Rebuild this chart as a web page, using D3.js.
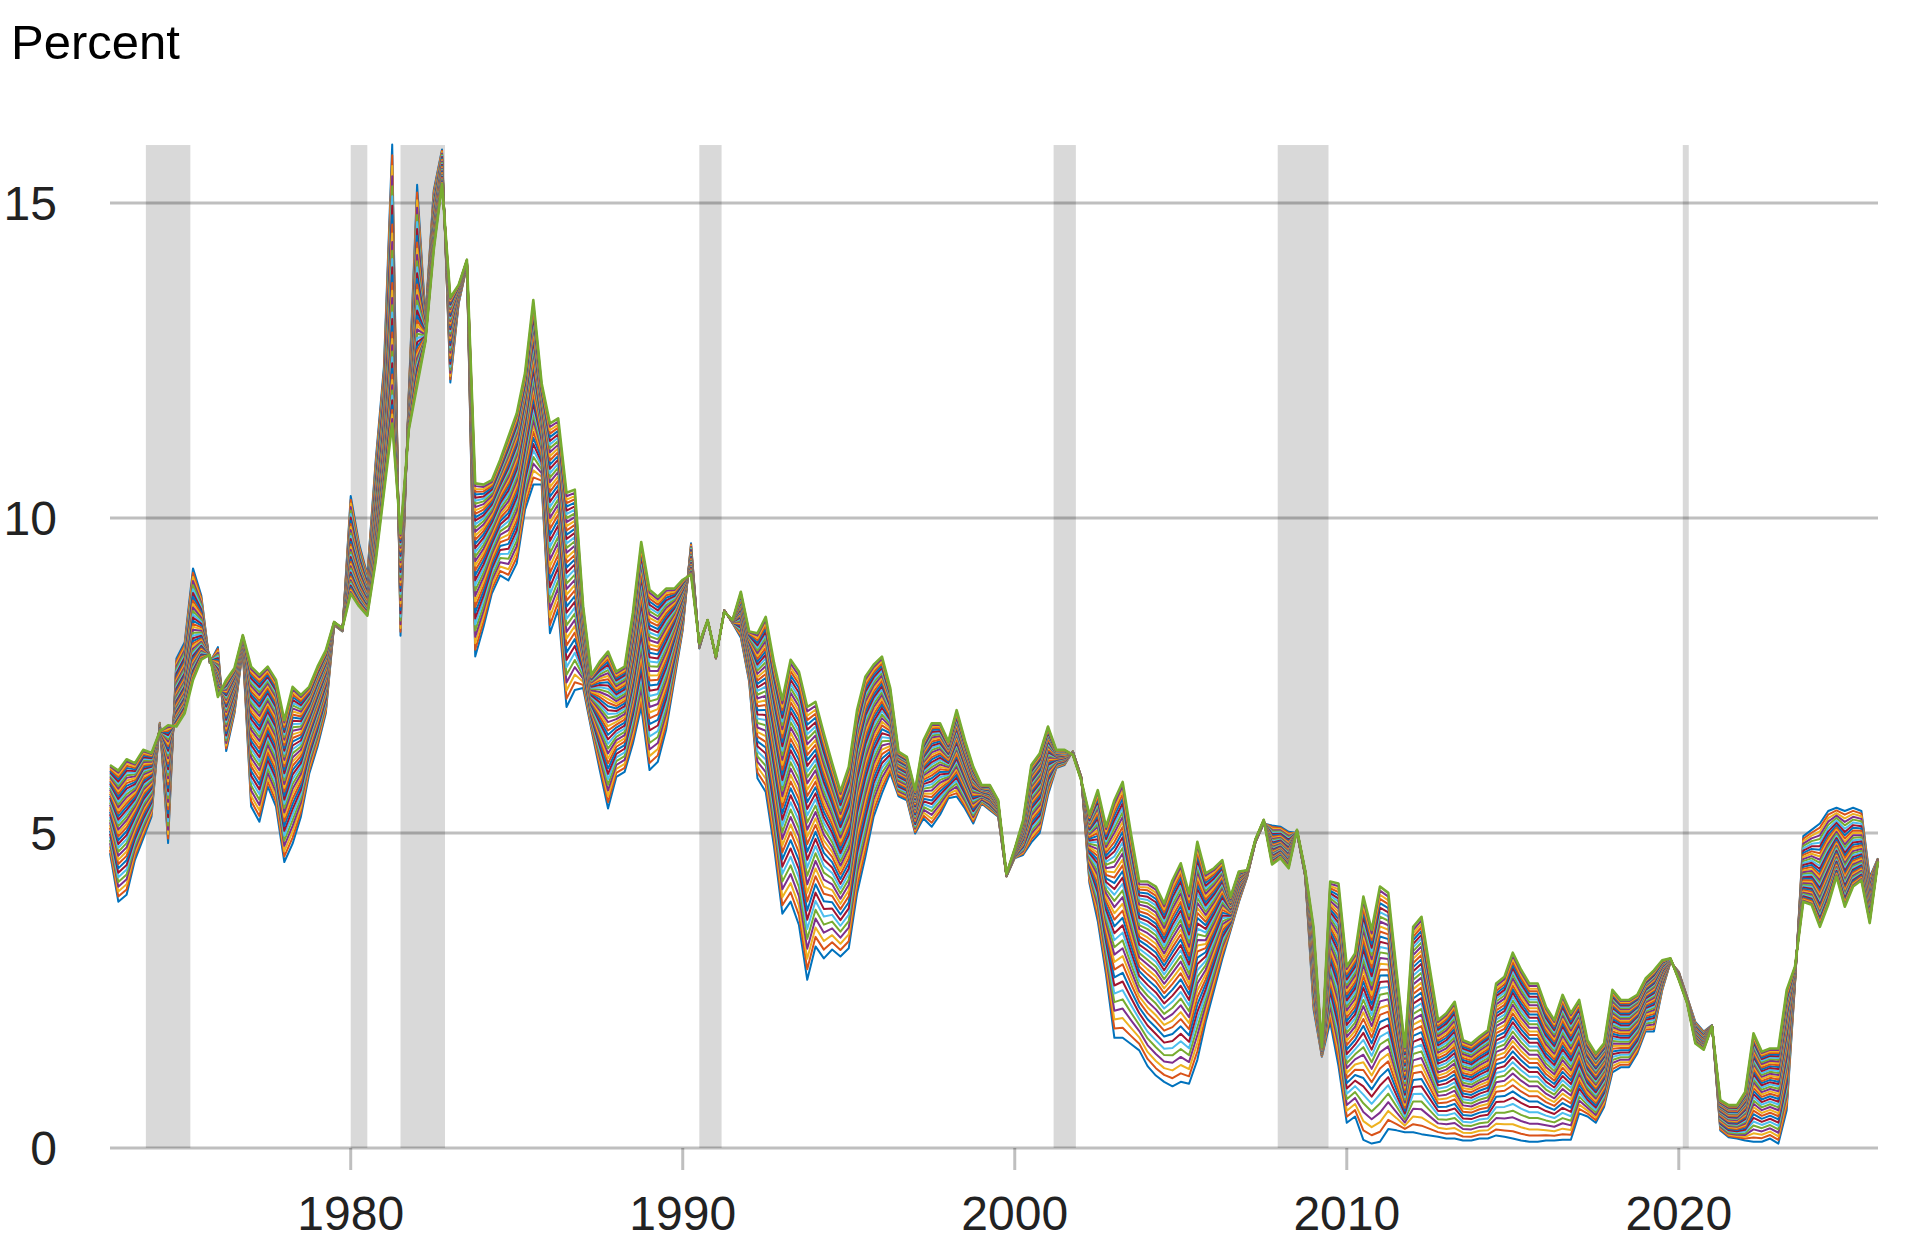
<!DOCTYPE html>
<html>
<head>
<meta charset="utf-8">
<script src="https://cdn.jsdelivr.net/npm/d3@7"></script>
<style>
  html, body { margin: 0; padding: 0; background: #fff; }
  svg { display: block; font-family: "Liberation Sans", Arial, sans-serif; }
</style>
</head>
<body>
<svg id="chart" width="1917" height="1250"></svg>
<script>
// ---------------- DATA ----------------
// quarterly observations, first quarter 1972.75, step one quarter
const firstQuarter = 1972.75;
const quarterStep = 0.25;

// shortest maturity (blue, first line)
const shortRate = [
  4.68, 3.91, 4.02, 4.57, 4.91, 5.26, 6.75, 4.84, 7.77, 8.03,
  9.2, 8.77, 7.7, 7.95, 6.3, 6.9, 7.9, 5.42, 5.18, 5.74,
  5.42, 4.54, 4.83, 5.26, 5.94, 6.37, 6.9, 8.3, 8.2, 10.35,
  9.6, 9.1, 10.9, 12.4, 15.93, 8.13, 12.0, 15.29, 13.18, 15.2,
  15.85, 12.15, 13.4, 14.0, 7.8, 8.27, 8.8, 9.09, 9.01, 9.28,
  10.13, 10.53, 10.53, 8.17, 8.55, 7.0, 7.27, 7.3, 6.64, 6.0,
  5.39, 5.89, 5.97, 6.42, 7.0, 6.0, 6.13, 6.64, 7.43, 8.22,
  9.6, 7.93, 8.38, 7.77, 8.54, 8.33, 8.1, 7.4, 5.87, 5.65,
  4.78, 3.72, 3.91, 3.54, 2.67, 3.2, 3.01, 3.15, 3.04, 3.17,
  4.04, 4.62, 5.26, 5.63, 5.95, 5.58, 5.52, 4.99, 5.23, 5.1,
  5.29, 5.55, 5.58, 5.39, 5.15, 5.47, 5.36, 5.26, 4.31, 4.6,
  4.65, 4.85, 5.0, 5.6, 6.03, 6.08, 6.3, 5.9, 4.2, 3.6,
  2.75, 1.75, 1.75, 1.65, 1.55, 1.3, 1.15, 1.05, 0.98, 1.05,
  1.02, 1.4, 2.0, 2.5, 3.0, 3.45, 3.9, 4.3, 4.85, 5.15,
  5.12, 5.1, 5.02, 5.0, 4.3, 2.2, 1.45, 2.0, 1.3, 0.4,
  0.5, 0.13, 0.07, 0.1, 0.3, 0.28, 0.25, 0.25, 0.22, 0.2,
  0.18, 0.15, 0.15, 0.12, 0.12, 0.15, 0.15, 0.2, 0.18, 0.15,
  0.12, 0.1, 0.1, 0.12, 0.12, 0.13, 0.13, 0.55, 0.5, 0.4,
  0.65, 1.2, 1.28, 1.28, 1.5, 1.85, 1.85, 2.5, 2.95, 2.8,
  2.4, 2.0, 1.85, 1.95, 0.28, 0.17, 0.15, 0.12, 0.1, 0.1,
  0.15, 0.07, 0.6, 2.6, 4.95, 5.05, 5.15, 5.35, 5.4, 5.35,
  5.4, 5.35, 4.3, 4.6
];

// longest maturity (green, last line)
const longRate = [
  6.08, 5.99, 6.17, 6.11, 6.32, 6.27, 6.61, 6.71, 6.69, 6.9,
  7.43, 7.75, 7.83, 7.16, 7.43, 7.62, 8.14, 7.64, 7.51, 7.64,
  7.43, 6.79, 7.32, 7.19, 7.32, 7.64, 7.9, 8.35, 8.25, 8.8,
  8.6, 8.45, 9.3, 10.4, 11.5, 9.75, 11.4, 12.1, 12.8, 14.25,
  15.3, 13.5, 13.7, 14.1, 10.55, 10.53, 10.6, 10.92, 11.29, 11.66,
  12.3, 13.46, 12.14, 11.5, 11.58, 10.4, 10.45, 8.6, 7.51, 7.72,
  7.88, 7.56, 7.64, 8.5, 9.62, 8.86, 8.75, 8.88, 8.88, 9.02,
  9.1, 8.01, 8.38, 7.8, 8.51, 8.38, 8.83, 8.2, 8.17, 8.43,
  7.7, 7.11, 7.75, 7.56, 7.0, 7.08, 6.58, 6.11, 5.66, 6.05,
  6.95, 7.48, 7.67, 7.8, 7.3, 6.29, 6.21, 5.68, 6.47, 6.74,
  6.74, 6.45, 6.95, 6.47, 6.05, 5.76, 5.76, 5.52, 4.35, 4.75,
  5.2, 6.08, 6.26, 6.69, 6.32, 6.32, 6.24, 5.84, 5.29, 5.68,
  5.1, 5.52, 5.81, 4.99, 4.23, 4.23, 4.15, 3.88, 4.25, 4.52,
  4.04, 4.86, 4.36, 4.44, 4.57, 3.99, 4.39, 4.41, 4.9, 5.21,
  4.5, 4.6, 4.44, 5.05, 4.4, 3.5, 1.6, 4.23, 4.2, 2.88,
  3.09, 3.99, 3.46, 4.15, 4.05, 2.8, 1.6, 3.51, 3.67, 2.85,
  2.03, 2.14, 2.32, 1.71, 1.66, 1.77, 1.87, 2.61, 2.72, 3.1,
  2.83, 2.61, 2.61, 2.24, 2.03, 2.43, 2.14, 2.35, 1.71, 1.5,
  1.66, 2.51, 2.35, 2.35, 2.43, 2.69, 2.82, 2.98, 3.01, 2.67,
  2.3, 1.66, 1.56, 1.93, 0.76, 0.68, 0.68, 0.89, 1.82, 1.53,
  1.58, 1.58, 2.51, 2.88, 3.91, 3.86, 3.51, 3.86, 4.31, 3.83,
  4.15, 4.25, 3.57, 4.55
];

// relative position of each of the 40 lines between the first and the last line
const fanPosition = [
  0, 0.039, 0.077, 0.114, 0.150, 0.186, 0.220, 0.254, 0.287, 0.319,
  0.350, 0.381, 0.411, 0.440, 0.469, 0.497, 0.524, 0.550, 0.576, 0.602,
  0.626, 0.651, 0.674, 0.697, 0.720, 0.742, 0.763, 0.784, 0.804, 0.824,
  0.844, 0.863, 0.882, 0.900, 0.917, 0.935, 0.952, 0.968, 0.984, 1
];

const lineColors = ["#0072BD", "#D95319", "#EDB120", "#7E2F8E", "#77AC30", "#4DBEEE", "#A2142F"];

// NBER recessions [start, end] in decimal years
const recessions = [
  [1973.83, 1975.17], [1980.0, 1980.5], [1981.5, 1982.84], [1990.5, 1991.17],
  [2001.17, 2001.84], [2007.92, 2009.45], [2020.12, 2020.3]
];

const xTicks = [1980, 1990, 2000, 2010, 2020];
const yTicks = [0, 5, 10, 15];
const yLabel = "Percent";

// ---------------- CHART ----------------
const svg = d3.select("#chart");
const left = 110, right = 1878, bottom = 1148;

const x = d3.scaleLinear().domain([1972.75, 2026.0]).range([left, right]);
const y = d3.scaleLinear().domain([0, 15]).range([bottom, 203]);
const yTop = 15.92;

const dates = shortRate.map((_, i) => firstQuarter + i * quarterStep);

// recession shading
svg.append("g").selectAll("rect").data(recessions).join("rect")
  .attr("x", d => x(d[0]))
  .attr("width", d => x(d[1]) - x(d[0]))
  .attr("y", y(yTop))
  .attr("height", y(0) - y(yTop))
  .attr("fill", "#d9d9d9");

// horizontal gridlines
svg.append("g").selectAll("line").data(yTicks).join("line")
  .attr("x1", left).attr("x2", right)
  .attr("y1", d => y(d)).attr("y2", d => y(d))
  .attr("stroke", "#000").attr("stroke-opacity", 0.25).attr("stroke-width", 3);

// x tick marks
svg.append("g").selectAll("line").data(xTicks).join("line")
  .attr("x1", d => x(d)).attr("x2", d => x(d))
  .attr("y1", y(0)).attr("y2", y(0) + 22)
  .attr("stroke", "#000").attr("stroke-opacity", 0.25).attr("stroke-width", 3);

// x labels
svg.append("g").selectAll("text").data(xTicks).join("text")
  .attr("x", d => x(d)).attr("y", 1230)
  .attr("text-anchor", "middle")
  .attr("font-size", 48).attr("fill", "#222")
  .text(d => d);

// y labels
svg.append("g").selectAll("text").data(yTicks).join("text")
  .attr("x", 57).attr("y", d => y(d))
  .attr("text-anchor", "end").attr("dominant-baseline", "central")
  .attr("font-size", 48).attr("fill", "#222")
  .text(d => d);

svg.append("text").attr("x", 11).attr("y", 59)
  .attr("font-size", 49).attr("fill", "#000").text(yLabel);

// fan of lines
const series = fanPosition.map((p, k) =>
  dates.map((t, i) => ({ t, v: shortRate[i] + (longRate[i] - shortRate[i]) * p }))
);

const line = d3.line().x(d => x(d.t)).y(d => y(d.v));

svg.append("g").selectAll("path").data(series).join("path")
  .attr("d", line)
  .attr("fill", "none")
  .attr("stroke", (d, k) => lineColors[k % lineColors.length])
  .attr("stroke-width", (d, k) => k === series.length - 1 ? 2.6 : 2)
  .attr("stroke-linejoin", "round");
</script>
</body>
</html>
